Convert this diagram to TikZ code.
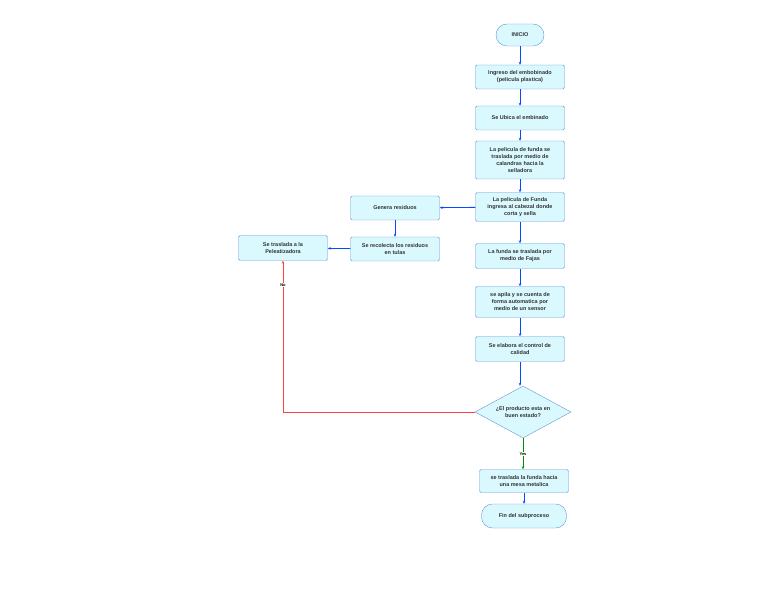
\documentclass[tikz,border=0pt]{standalone}
\usepackage{fontspec}
\setmainfont{Liberation Sans}
\usetikzlibrary{shapes.geometric,arrows.meta}
\begin{document}
\begin{tikzpicture}[x=1pt,y=-1pt,
 box/.style={draw=blue!55!cyan!70!black!60, fill=blue!15!cyan!15, rounded corners=1.5pt, minimum width=89pt, align=center, font=\fontsize{5.5}{7}\selectfont\bfseries, text=black!80, inner sep=1pt},
 term/.style={box, rounded corners=11pt},
 dia/.style={diamond, draw=blue!55!cyan!70!black!60, fill=blue!15!cyan!15, aspect=1.85, minimum width=96pt, minimum height=52pt, align=center, font=\fontsize{5.5}{7}\selectfont\bfseries, text=black!80, inner sep=0pt},
 ar/.style={draw=blue!70!cyan, line width=0.8pt, -{Stealth[length=3pt,width=2.5pt]}},
 lbl/.style={font=\fontsize{4}{5}\selectfont\bfseries, fill=white, inner sep=0.5pt}]
\useasboundingbox (0,0) rectangle (768,593);
\node[term, minimum width=48pt, minimum height=22pt] (n0) at (520,35) {INICIO};
\node[box, minimum height=24pt] (n1) at (520,77) {Ingreso del embobinado\\(pelicula plastica)};
\node[box, minimum height=24pt] (n2) at (520,118) {Se Ubica el embinado};
\node[box, minimum height=38pt] (n3) at (520,160) {La pelicula de funda se\\traslada por medio de\\calandras hacia la\\selladora};
\node[box, minimum height=29pt] (n4) at (520,207) {La pelicula de Funda\\ingresa al cabezal donde\\corta y sella};
\node[box, minimum height=24pt] (g) at (395,208) {Genera residuos};
\node[box, minimum height=24pt] (r) at (395,249) {Se recolecta los residuos\\en tulas};
\node[box, minimum height=25pt] (p) at (283,248) {Se traslada a la\\Peleatizadora};
\node[box, minimum height=25pt] (n5) at (520,256) {La funda se traslada  por\\medio de Fajas};
\node[box, minimum height=31pt] (n6) at (520,302) {se apila y se cuenta de\\forma automatica por\\medio de un sensor};
\node[box, minimum height=25pt] (n7) at (520,349) {Se elabora el control de\\calidad};
\node[dia] (d) at (523,412) {¿El producto esta en\\buen estado?};
\node[box, minimum height=23pt] (n8) at (524,481) {se traslada la funda hacia\\una  mesa metalica};
\node[term, minimum width=85pt, minimum height=24pt] (n9) at (524,516) {Fin del subproceso};
\draw[ar] (n0) -- (n1);
\draw[ar] (n1) -- (n2);
\draw[ar] (n2) -- (n3);
\draw[ar] (n3) -- (n4);
\draw[ar] (n4) -- (g);
\draw[ar] (g) -- (r);
\draw[ar] (r) -- (p);
\draw[ar] (n4) -- (n5);
\draw[ar] (n5) -- (n6);
\draw[ar] (n6) -- (n7);
\draw[ar] (n7.south) -- (n7.south |- d.north);
\draw[ar, draw=red!75] (d.west) -| node[lbl, pos=0.92]{No} (p.south);
\draw[ar, draw=green!55!black] (d.south) -- node[lbl]{Yes} (d.south |- n8.north);
\draw[ar] (n8) -- (n9);
\end{tikzpicture}
\end{document}
